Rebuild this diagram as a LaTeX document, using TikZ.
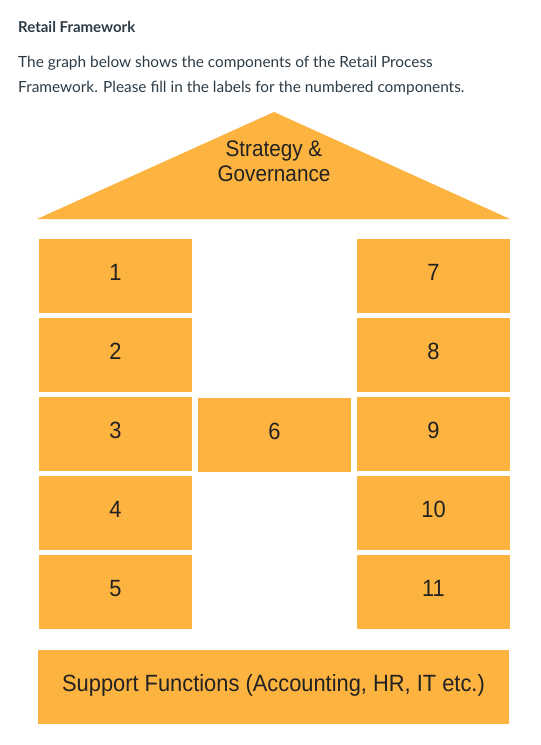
\documentclass[tikz,border=0pt]{standalone}
\usepackage{fontspec}
\setmainfont{Lato}
\newfontfamily\housefont[FakeStretch=0.93]{Liberation Sans}
\newfontfamily\rooffont[FakeStretch=0.92]{Liberation Sans}
\definecolor{houseorange}{HTML}{FDB33F}
\definecolor{pagetext}{HTML}{2D3B45}
\definecolor{boxtext}{HTML}{222222}

\tikzset{
  housebox/.style={fill=houseorange, inner sep=0pt, minimum width=153pt,
    minimum height=74pt, text depth=8pt, text=boxtext,
    font=\housefont\fontsize{23.5}{27}\selectfont},
}

\begin{document}
\begin{tikzpicture}[x=1pt,y=-1pt]
  \useasboundingbox (0,0) rectangle (541,745);
  % heading and question
  \node[anchor=base west, inner sep=0pt, text=pagetext,
    font=\bfseries\fontsize{15}{18}\selectfont] (title) at (18,32) {Retail Framework};
  \node[anchor=base west, inner sep=0pt, text=pagetext, align=left,
    font=\fontsize{15.4}{24.5}\selectfont] (question) at (18,92)
    {The graph below shows the components of the Retail Process\\
     Framework. Please fill in the labels for the numbered components.};
  % roof
  \fill[houseorange] (37,219) -- (274,112) -- (510,219) -- cycle;
  \node[align=center, text=boxtext, font=\rooffont\fontsize{22.5}{25}\selectfont]
    (roof) at (274,161) {Strategy \&\\Governance};
  % pillars
  \foreach \n/\y in {1/276,2/355,3/434,4/513,5/592}
    \node[housebox] (box\n) at (115.5,\y) {\n};
  \foreach \n/\y in {7/276,8/355,9/434,10/513,11/592}
    \node[housebox] (box\n) at (433.5,\y) {\n};
  \node[housebox] (box6) at (274.5,435) {6};
  % foundation
  \node[housebox, minimum width=471pt] (support) at (273.5,687)
    {Support Functions (Accounting, HR, IT etc.)};
\end{tikzpicture}
\end{document}
